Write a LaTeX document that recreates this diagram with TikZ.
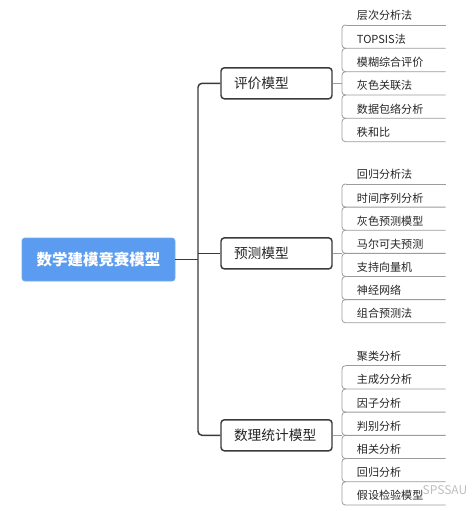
\documentclass[tikz,border=0pt]{standalone}
\usepackage{fontspec}
\setmainfont{Noto Sans CJK SC}
\usetikzlibrary{calc}
\definecolor{rootblue}{HTML}{5B9CF0}
\definecolor{darkline}{HTML}{3A3A3A}
\definecolor{leafgray}{HTML}{9C9C9C}
\definecolor{txt}{HTML}{262626}
\begin{document}
\begin{tikzpicture}[x=0.75pt,y=-0.75pt,
  rootbox/.style={fill=rootblue,draw=rootblue!85!white,rounded corners=2pt,minimum width=114.75pt,minimum height=32.25pt,inner sep=0pt,text=white,font=\fontsize{11.6pt}{14pt}\selectfont\bfseries},
  catbox/.style={fill=white,draw=darkline,line width=1.1pt,rounded corners=2.5pt,minimum width=83.25pt,minimum height=23.25pt,inner xsep=9.75pt,inner ysep=0pt,text width=63.75pt,align=left,text=txt,font=\fontsize{10.3pt}{12pt}\selectfont},
  leaf/.style={anchor=south west,minimum width=77.25pt,minimum height=13.5pt,inner xsep=11pt,inner ysep=0pt,text width=55.25pt,align=left,text=txt,font=\fontsize{8.3pt}{10pt}\selectfont},
  trunk/.style={draw=darkline,line width=1.1pt,rounded corners=3pt},
  leafline/.style={draw=leafgray,line width=0.6pt,rounded corners=2.5pt}
]
\useasboundingbox (0,0) rectangle (474,511);
\fill[white] (0,0) rectangle (474,511);

\node[rootbox] (root) at (98.5,259.5) {数学建模竞赛模型};
\node[catbox] (c1) at (276.5,83.3) {评价模型};
\node[catbox] (c2) at (276.5,253.4) {预测模型};
\node[catbox] (c3) at (276.5,435.3) {数理统计模型};

\coordinate (tr) at (198,259.5);
\draw[trunk] (root.east) -- (tr);
\draw[trunk] (c1.west) -- (c1.west -| tr) -- (c3.west -| tr) -- (c3.west);
\draw[trunk] (tr |- c2.west) -- (c2.west);

% group 1
\foreach [count=\i from 0] \t in {层次分析法,TOPSIS法,模糊综合评价,灰色关联法,数据包络分析,秩和比}
  \node[leaf] (a\i) at (342,{25+23.33*\i}) {\t};
% group 2
\foreach [count=\i from 0] \t in {回归分析法,时间序列分析,灰色预测模型,马尔可夫预测,支持向量机,神经网络,组合预测法}
  \node[leaf] (b\i) at (342,{184+23.12*\i}) {\t};
% group 3
\foreach [count=\i from 0] \t in {聚类分析,主成分分析,因子分析,判别分析,相关分析,回归分析,假设检验模型}
  \node[leaf] (d\i) at (342,{365.7+23.22*\i}) {\t};

\foreach \g/\n in {a/5,b/6,d/6}{
  \draw[leafline] ($(\g0.south west)+(4,0)$) -- (\g0.south east);
  \foreach \i in {1,...,\n}{
    \pgfmathtruncatemacro\j{\i-1}
    \draw[leafline] ($(\g\j.south west)+(4,0)$) -- (\g\j.south west) -- (\g\i.south west) -- (\g\i.south east);
  }
}

\draw[leafline] (c1.east) -- (c1.east -| a0.south west);
\draw[leafline] (c2.east) -- (c2.east -| b0.south west);
\draw[leafline] (c3.east) -- (c3.east -| d0.south west);

\node[text=black!25,font=\fontsize{9pt}{10pt}\selectfont,anchor=west] (wm) at (418,490) {SPSSAU};
\end{tikzpicture}
\end{document}
